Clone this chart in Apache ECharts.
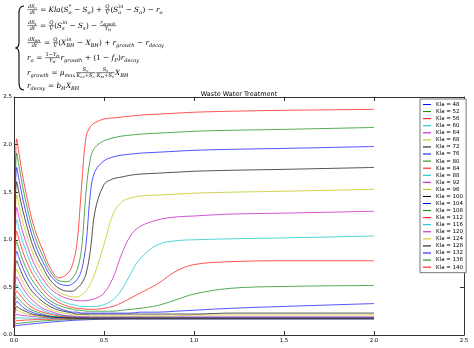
<!DOCTYPE html>
<html>
<head>
<meta charset="utf-8">
<script src="https://cdn.jsdelivr.net/npm/echarts@6/dist/echarts.min.js"></script>
<style>
  html, body { margin: 0; padding: 0; background: #fff; }
  #chart { width: 474px; height: 348px; }
</style>
</head>
<body>
<div id="chart"></div>
<script>
// Simulation time points (days)
const times = [0, 0.005, 0.015, 0.03, 0.05, 0.075, 0.1, 0.13, 0.16, 0.2, 0.25, 0.3, 0.325, 0.35, 0.375, 0.4, 0.425, 0.45, 0.5, 0.55, 0.6, 0.65, 0.7, 0.8, 0.9, 1.0, 1.2, 1.5, 2.0];

// Aeration coefficients
const klaValues = [48, 52, 56, 60, 64, 68, 72, 76, 80, 84, 88, 92, 96, 100, 104, 108, 112, 116, 120, 124, 128, 132, 136, 140];

// Dissolved oxygen S_o (mg/l) for each Kla
const kla48  = [0.08, 0.09, 0.10, 0.103, 0.107, 0.112, 0.117, 0.122, 0.128, 0.135, 0.143, 0.15, 0.153, 0.156, 0.158, 0.16, 0.162, 0.163, 0.165, 0.166, 0.167, 0.168, 0.168, 0.168, 0.168, 0.168, 0.168, 0.168, 0.168];
const kla52  = [0.08, 0.11, 0.12, 0.124, 0.128, 0.133, 0.138, 0.143, 0.148, 0.153, 0.158, 0.162, 0.164, 0.165, 0.166, 0.167, 0.168, 0.168, 0.169, 0.17, 0.17, 0.17, 0.17, 0.17, 0.17, 0.17, 0.17, 0.17, 0.17];
const kla56  = [0.08, 0.13, 0.15, 0.152, 0.155, 0.158, 0.16, 0.162, 0.164, 0.166, 0.168, 0.17, 0.17, 0.171, 0.171, 0.172, 0.172, 0.172, 0.172, 0.172, 0.172, 0.172, 0.172, 0.172, 0.172, 0.172, 0.172, 0.172, 0.172];
const kla60  = [0.08, 0.16, 0.18, 0.18, 0.178, 0.177, 0.176, 0.175, 0.175, 0.175, 0.174, 0.174, 0.174, 0.174, 0.174, 0.174, 0.174, 0.174, 0.174, 0.174, 0.174, 0.174, 0.174, 0.174, 0.174, 0.174, 0.174, 0.174, 0.174];
const kla64  = [0.08, 0.19, 0.22, 0.21, 0.205, 0.20, 0.195, 0.19, 0.185, 0.18, 0.178, 0.176, 0.176, 0.175, 0.175, 0.175, 0.175, 0.175, 0.175, 0.175, 0.175, 0.175, 0.175, 0.175, 0.175, 0.175, 0.175, 0.175, 0.175];
const kla68  = [0.08, 0.22, 0.26, 0.25, 0.23, 0.22, 0.21, 0.20, 0.19, 0.185, 0.18, 0.178, 0.177, 0.177, 0.177, 0.176, 0.176, 0.176, 0.176, 0.176, 0.176, 0.176, 0.176, 0.176, 0.176, 0.176, 0.176, 0.176, 0.176];
const kla72  = [0.08, 0.25, 0.30, 0.28, 0.26, 0.24, 0.22, 0.21, 0.20, 0.19, 0.183, 0.18, 0.179, 0.178, 0.178, 0.178, 0.178, 0.178, 0.178, 0.178, 0.178, 0.178, 0.178, 0.178, 0.178, 0.178, 0.178, 0.178, 0.178];
const kla76  = [0.08, 0.29, 0.35, 0.33, 0.29, 0.26, 0.24, 0.22, 0.21, 0.195, 0.185, 0.182, 0.181, 0.18, 0.18, 0.18, 0.18, 0.18, 0.18, 0.18, 0.18, 0.18, 0.18, 0.18, 0.18, 0.18, 0.18, 0.18, 0.18];
const kla80  = [0.08, 0.33, 0.40, 0.37, 0.33, 0.29, 0.26, 0.24, 0.22, 0.20, 0.19, 0.185, 0.183, 0.182, 0.181, 0.181, 0.181, 0.181, 0.181, 0.181, 0.181, 0.181, 0.181, 0.181, 0.181, 0.181, 0.181, 0.181, 0.181];
const kla84  = [0.08, 0.38, 0.46, 0.43, 0.38, 0.33, 0.29, 0.26, 0.24, 0.22, 0.20, 0.19, 0.19, 0.185, 0.185, 0.183, 0.183, 0.183, 0.183, 0.183, 0.183, 0.183, 0.183, 0.183, 0.183, 0.183, 0.183, 0.183, 0.183];
const kla88  = [0.08, 0.43, 0.53, 0.49, 0.43, 0.37, 0.33, 0.29, 0.26, 0.23, 0.21, 0.20, 0.19, 0.19, 0.19, 0.19, 0.185, 0.185, 0.185, 0.185, 0.185, 0.185, 0.185, 0.185, 0.185, 0.185, 0.185, 0.185, 0.185];
const kla92  = [0.08, 0.48, 0.61, 0.56, 0.49, 0.42, 0.37, 0.32, 0.28, 0.25, 0.22, 0.20, 0.20, 0.19, 0.19, 0.19, 0.19, 0.19, 0.19, 0.19, 0.19, 0.19, 0.19, 0.19, 0.19, 0.19, 0.19, 0.19, 0.19];
const kla96  = [0.08, 0.54, 0.69, 0.63, 0.55, 0.47, 0.41, 0.36, 0.32, 0.27, 0.24, 0.22, 0.21, 0.21, 0.21, 0.21, 0.20, 0.20, 0.20, 0.20, 0.20, 0.20, 0.20, 0.20, 0.20, 0.21, 0.21, 0.21, 0.21];
const kla100 = [0.08, 0.60, 0.78, 0.71, 0.62, 0.53, 0.46, 0.40, 0.35, 0.30, 0.26, 0.24, 0.23, 0.22, 0.22, 0.22, 0.22, 0.22, 0.22, 0.22, 0.22, 0.22, 0.22, 0.22, 0.22, 0.22, 0.23, 0.23, 0.23];
const kla104 = [0.08, 0.66, 0.88, 0.80, 0.70, 0.60, 0.52, 0.45, 0.39, 0.33, 0.28, 0.25, 0.24, 0.24, 0.23, 0.23, 0.23, 0.23, 0.23, 0.23, 0.23, 0.23, 0.24, 0.24, 0.25, 0.26, 0.28, 0.30, 0.33];
const kla108 = [0.08, 0.72, 0.98, 0.89, 0.78, 0.67, 0.58, 0.50, 0.43, 0.36, 0.31, 0.28, 0.27, 0.26, 0.26, 0.25, 0.25, 0.25, 0.25, 0.25, 0.26, 0.27, 0.28, 0.31, 0.37, 0.43, 0.49, 0.51, 0.52];
const kla112 = [0.08, 0.78, 1.09, 0.99, 0.87, 0.75, 0.65, 0.56, 0.48, 0.40, 0.34, 0.30, 0.29, 0.28, 0.28, 0.27, 0.27, 0.27, 0.28, 0.30, 0.34, 0.39, 0.44, 0.54, 0.67, 0.74, 0.77, 0.78, 0.78];
const kla116 = [0.08, 0.84, 1.21, 1.10, 0.97, 0.84, 0.72, 0.62, 0.53, 0.44, 0.37, 0.33, 0.32, 0.31, 0.30, 0.30, 0.30, 0.30, 0.32, 0.37, 0.48, 0.65, 0.80, 0.95, 0.99, 1.00, 1.01, 1.02, 1.04];
const kla120 = [0.08, 0.90, 1.34, 1.22, 1.07, 0.93, 0.80, 0.68, 0.59, 0.49, 0.42, 0.38, 0.37, 0.36, 0.36, 0.36, 0.37, 0.38, 0.44, 0.60, 0.86, 1.05, 1.14, 1.21, 1.24, 1.25, 1.27, 1.28, 1.30];
const kla124 = [0.08, 0.98, 1.47, 1.34, 1.18, 1.02, 0.88, 0.75, 0.65, 0.53, 0.45, 0.41, 0.40, 0.40, 0.42, 0.46, 0.54, 0.65, 0.95, 1.27, 1.40, 1.44, 1.46, 1.47, 1.48, 1.49, 1.50, 1.51, 1.53];
const kla128 = [0.08, 1.05, 1.61, 1.47, 1.30, 1.12, 0.96, 0.82, 0.71, 0.58, 0.49, 0.46, 0.46, 0.49, 0.54, 0.64, 0.90, 1.30, 1.58, 1.64, 1.66, 1.68, 1.69, 1.70, 1.71, 1.72, 1.73, 1.74, 1.76];
const kla132 = [0.08, 1.14, 1.76, 1.61, 1.42, 1.22, 1.05, 0.89, 0.77, 0.63, 0.54, 0.52, 0.54, 0.58, 0.68, 0.95, 1.50, 1.72, 1.83, 1.87, 1.89, 1.90, 1.91, 1.92, 1.93, 1.94, 1.95, 1.96, 1.98];
const kla136 = [0.08, 1.22, 1.91, 1.75, 1.54, 1.32, 1.13, 0.96, 0.83, 0.67, 0.57, 0.56, 0.60, 0.68, 0.90, 1.50, 1.86, 1.97, 2.04, 2.07, 2.09, 2.10, 2.11, 2.12, 2.13, 2.14, 2.15, 2.16, 2.18];
const kla140 = [0.08, 1.30, 2.06, 1.88, 1.65, 1.42, 1.21, 1.03, 0.89, 0.71, 0.60, 0.65, 0.74, 0.96, 1.55, 2.08, 2.19, 2.23, 2.27, 2.28, 2.29, 2.30, 2.31, 2.32, 2.33, 2.34, 2.35, 2.36, 2.37];

const oxygenCurves = [kla48, kla52, kla56, kla60, kla64, kla68, kla72, kla76, kla80, kla84, kla88, kla92,
                      kla96, kla100, kla104, kla108, kla112, kla116, kla120, kla124, kla128, kla132, kla136, kla140];

// Axis ticks
const axisTicks = [0, 0.5, 1.0, 1.5, 2.0, 2.5];

// Classic b, g, r, c, m, y, k colour cycle
const colorCycle = ['#0000ff', '#008000', '#ff0000', '#00bfbf', '#bf00bf', '#bfbf00', '#000000'];

const titleText = 'Waste Water Treatment';
const yAxisTitle = 'oxygen concentration (mg/l)';

// ---------- Model equations typeset as text pieces ----------
const EQ_FONT = 'DejaVu Serif';
const measureCtx = document.createElement('canvas').getContext('2d');
function textWidth(s, size, italic) {
  measureCtx.font = (italic ? 'italic ' : '') + size + 'px "' + EQ_FONT + '"';
  return measureCtx.measureText(s).width;
}
const I = s => ({ k: 't', s, it: true });
const R = s => ({ k: 't', s, it: false });
const V = (base, sub, sup) => ({ k: 'v', base, sub, sup });
const F = (num, den) => ({ k: 'f', num, den });

function tokenWidth(t, size) {
  if (t.k === 't') return textWidth(t.s, size, t.it);
  if (t.k === 'v') {
    const ss = size * 0.7;
    const sw = Math.max(t.sub ? textWidth(t.sub, ss, true) : 0, t.sup ? textWidth(t.sup, ss, true) : 0);
    return textWidth(t.base, size, true) + sw + size * 0.05;
  }
  const fs = size * 0.7;
  return Math.max(measure(t.num, fs), measure(t.den, fs)) + size * 0.25;
}
function measure(tokens, size) {
  return tokens.reduce((w, t) => w + tokenWidth(t, size), 0);
}
function txt(s, x, y, size, italic) {
  return {
    type: 'text', x, y, silent: true,
    style: { text: s, fontSize: size, fontFamily: EQ_FONT, fontStyle: italic ? 'italic' : 'normal',
             fill: '#000', verticalAlign: 'middle', align: 'left' }
  };
}
function draw(tokens, x, y, size, out) {
  for (const t of tokens) {
    if (t.k === 't') {
      out.push(txt(t.s, x, y, size, t.it));
    } else if (t.k === 'v') {
      const bw = textWidth(t.base, size, true);
      const ss = size * 0.7;
      out.push(txt(t.base, x, y, size, true));
      if (t.sub) out.push(txt(t.sub, x + bw, y + size * 0.32, ss, true));
      if (t.sup) out.push(txt(t.sup, x + bw + size * 0.05, y - size * 0.42, ss, true));
    } else {
      const fs = size * 0.7;
      const nw = measure(t.num, fs), dw = measure(t.den, fs);
      const fw = Math.max(nw, dw);
      const pad = size * 0.125;
      const barY = y - size * 0.05;
      out.push({ type: 'line', silent: true,
                 shape: { x1: x + pad * 0.5, y1: barY, x2: x + fw + pad * 1.5, y2: barY },
                 style: { stroke: '#000', lineWidth: 0.5 } });
      draw(t.num, x + pad + (fw - nw) / 2, barY - fs * 0.58, fs, out);
      draw(t.den, x + pad + (fw - dw) / 2, barY + fs * 0.62, fs, out);
    }
    x += tokenWidth(t, size);
  }
  return x;
}

const equations = [
  [F([I('d'), V('S', 'o')], [I('dt')]), R(' = '), I('Kla'), R('('), V('S', 'o', '*'), R(' − '), V('S', 'o'), R(')'),
   R(' + '), F([I('Q')], [I('V')]), R('('), V('S', 'o', 'in'), R(' − '), V('S', 'o'), R(')'), R(' − '), V('r', 'o')],
  [F([I('d'), V('S', 's')], [I('dt')]), R(' = '), F([I('Q')], [I('V')]), R('('), V('S', 's', 'in'), R(' − '), V('S', 's'), R(')'),
   R(' − '), F([V('r', 'growth')], [V('Y', 'H')])],
  [F([I('d'), V('X', 'BH')], [I('dt')]), R(' = '), F([I('Q')], [I('V')]), R('('), V('X', 'BH', 'in'), R(' − '), V('X', 'BH'), R(')'),
   R(' + '), V('r', 'growth'), R(' − '), V('r', 'decay')],
  [V('r', 'o'), R(' = '), F([R('1−'), V('Y', 'H')], [V('Y', 'H')]), V('r', 'growth'), R(' + (1 − '), V('f', 'P'), R(')'), V('r', 'decay')],
  [V('r', 'growth'), R(' = '), V('μ', 'max'), F([V('S', 'o')], [V('K', 'oa'), R('+'), V('S', 'o')]),
   F([V('S', 's')], [V('K', 'ss'), R('+'), V('S', 's')]), V('X', 'BH')],
  [V('r', 'decay'), R(' = '), V('b', 'H'), V('X', 'BH')]
];
const eqRows = [10, 26, 43, 58, 73, 86];
const eqSize = 8 * 136 / measure(equations[0], 8);

const graphics = [];
equations.forEach((eq, i) => draw(eq, 27, eqRows[i], eqSize, graphics));

// Left curly brace grouping the equations
const braceStyle = { stroke: '#000', fill: null, lineWidth: 1.1 };
[
  { type: 'bezierCurve', shape: { x1: 24, y1: 6, cpx1: 19, cpy1: 6, x2: 19, y2: 13 } },
  { type: 'line', shape: { x1: 19, y1: 13, x2: 19, y2: 42 } },
  { type: 'bezierCurve', shape: { x1: 19, y1: 42, cpx1: 19, cpy1: 48, x2: 15.5, y2: 48 } },
  { type: 'bezierCurve', shape: { x1: 15.5, y1: 48, cpx1: 19, cpy1: 48, x2: 19, y2: 54 } },
  { type: 'line', shape: { x1: 19, y1: 54, x2: 19, y2: 83 } },
  { type: 'bezierCurve', shape: { x1: 19, y1: 83, cpx1: 19, cpy1: 90, x2: 24, y2: 90 } }
].forEach(el => graphics.push(Object.assign(el, { silent: true, style: braceStyle })));

graphics.push({
  type: 'text', x: 239, y: 94, silent: true,
  style: { text: titleText, fontSize: 6.5, fontFamily: 'DejaVu Sans', fill: '#000', align: 'center', verticalAlign: 'middle' }
});

// ---------- Chart ----------
const frameColor = '#333';
const tickFont = { fontSize: 5.5, fontFamily: 'DejaVu Sans', color: '#000' };

function valueAxis(extra) {
  return Object.assign({
    type: 'value', min: axisTicks[0], max: axisTicks[axisTicks.length - 1], interval: 0.5,
    axisLine: { show: true, onZero: false, lineStyle: { color: frameColor, width: 1 } },
    axisTick: { show: true, inside: true, length: 4, lineStyle: { color: frameColor, width: 1 } },
    splitLine: { show: false },
    axisLabel: Object.assign({ margin: 3, formatter: v => v.toFixed(1) }, tickFont)
  }, extra);
}

const chart = echarts.init(document.getElementById('chart'), null, { renderer: 'canvas' });
chart.setOption({
  animation: false,
  backgroundColor: '#fff',
  grid: { left: 14, top: 97, width: 450, height: 238, containLabel: false, outerBoundsMode: 'none' },
  xAxis: [
    valueAxis({ position: 'bottom' }),
    valueAxis({ position: 'top', axisLabel: { show: false } })
  ],
  yAxis: [
    valueAxis({ position: 'left', name: yAxisTitle, nameLocation: 'middle', nameGap: 7, nameRotate: 90,
                nameTextStyle: { fontSize: 5.5, fontFamily: 'DejaVu Sans', color: '#000' },
                axisLabel: Object.assign({ margin: 2, formatter: v => v.toFixed(1) }, tickFont) }),
    valueAxis({ position: 'right', axisLabel: { show: false } })
  ],
  legend: {
    orient: 'vertical', left: 420, top: 99,
    padding: [2, 3, 2, 3], itemGap: 0, itemWidth: 8, itemHeight: 1, icon: 'rect',
    backgroundColor: '#fff', borderColor: '#777', borderWidth: 1,
    textStyle: { fontSize: 5.5, fontFamily: 'DejaVu Sans', color: '#000', lineHeight: 7.07 },
    data: klaValues.map(k => 'Kla = ' + k)
  },
  series: klaValues.map((k, i) => ({
    type: 'line',
    name: 'Kla = ' + k,
    xAxisIndex: 0, yAxisIndex: 0,
    data: times.map((t, j) => [t, oxygenCurves[i][j]]),
    symbol: 'none',
    smooth: 0.35,
    lineStyle: { width: 0.9, color: colorCycle[i % colorCycle.length], opacity: 0.75 },
    itemStyle: { color: colorCycle[i % colorCycle.length] }
  })),
  graphic: graphics
});
</script>
</body>
</html>
